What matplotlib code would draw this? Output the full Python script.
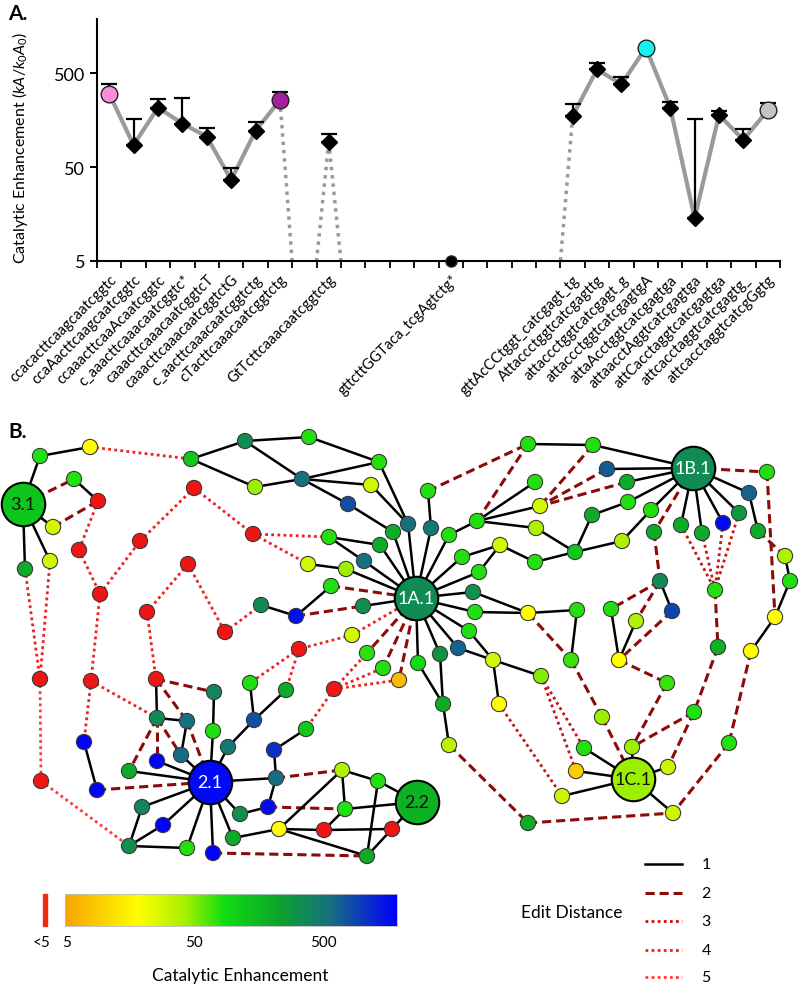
import numpy as np
import matplotlib
matplotlib.use("Agg")
import matplotlib.pyplot as plt
from matplotlib.colors import LinearSegmentedColormap
from matplotlib.patches import Rectangle

plt.rcParams['font.family'] = ['Lato', 'DejaVu Sans']
plt.rcParams['mathtext.fontset'] = 'custom'
plt.rcParams['mathtext.it'] = 'Lato:italic'
plt.rcParams['mathtext.rm'] = 'Lato'

# ---------------- Panel A data ----------------
label_pos = [0, 1, 2, 3, 4, 5, 6, 7, 9, 14, 19, 20, 21, 22, 23, 24, 25, 26, 27]
seq_labels = [
    "ccacacttcaagcaatcggtc", "ccaAacttcaagcaatcggtc", "ccaaacttcaaAcaatcggtc",
    "c_aaacttcaaacaatcggtc*", "caaacttcaaacaatcggtcT", "caaacttcaaacaatcggtctG",
    "c_aacttcaaacaatcggtctg", "cTacttcaaacaatcggtctg", "GtTcttcaaacaatcggtctg",
    "gttcttGGTaca_tcgAgtctg*", "gttAcCCtggt_catcgagt_tg", "Attaccctggtcatcgagttg",
    "attaccctggtcatcgagt_g", "attaccctggtcatcgagtgA", "attaAcctggtcatcgagtga",
    "attaacctAggtcatcgagtga", "attCacctaggtcatcgagtga", "attcacctaggtcatcgagtg_",
    "attcacctaggtcatcgGgtg",
]
enh_vals = [304, 86, 216, 146, 106, 36.6, 122, 260, 93, 5,
            176, 552, 382, 938, 216, 14.3, 180, 98, 202]
enh_top = [382, 165, 269, 273, 131, 49, 150, 319, 114, 5,
           238, 638, 461, 960, 248, 165, 199, 129, 244]
series_1 = [0, 1, 2, 3, 4, 5, 6, 7]
series_2 = [19, 20, 21, 22, 23, 24, 25, 26, 27]
drop_from = [7, 9, 9, 19]
drop_to = [7.5, 8.5, 9.5, 18.5]
special_pos = [0, 7, 22, 27, 14]
special_col = ['#f98ddc', '#a3229c', '#19f0f0', '#c4c4c4', '#000000']

# ---------------- Panel B data ----------------
node_names = [
    "3.1", "a2", "a3", "a4", "a5", "a6", "a7",
    "r1", "r2", "r3", "r4", "r5", "r6", "r7", "r8", "r9", "r10", "r11", "r12", "r13", "r14", "r15", "r16", "r17",
    "t1", "t2", "t3", "t4", "t5", "t6", "t7", "t8", "t9", "t10", "t11", "t12", "t13", "t14", "t15", "t16", "t17",
    "t18", "t19", "t20", "t21",
    "m1", "m2", "m3", "m4", "1A.1",
    "h1", "h2", "h3", "h4", "h5", "h6", "h7", "h8", "h9", "h10", "h11", "h12", "h13", "h14", "h15", "h16", "h17",
    "h18", "h19", "h20", "h21", "h22", "h24", "h25", "h26", "h27", "h28", "h29", "h30", "h31", "h32", "h33",
    "1B.1", "k1", "k2", "k3", "k4", "k5", "k6", "k7", "k8", "k9", "k10", "k11", "k12", "k13", "k14", "k15", "k16",
    "k17", "k18", "k19", "k20", "k21", "k22", "k23", "k24", "k25", "1C.1", "k27", "k28", "k29", "k30", "k31",
    "2.1", "b1", "b2", "b3", "b4", "b5", "b6", "b7", "b8", "b9", "b10", "b11", "b12", "b13", "b14", "b15", "b16",
    "b17", "b18", "b19", "b20", "b21", "b22", "b23", "b24",
    "2.2", "c1", "c2", "c3", "c4", "c7",
]
node_x = [
    23, 40, 90, 74, 53, 25, 50,
    98, 79, 100, 140, 194, 188, 147, 253, 225, 40, 91, 156, 299, 334, 41, 324, 392,
    191, 245, 309, 379, 255, 302, 371, 348, 408, 428, 431, 393, 329, 380, 364, 308, 346,
    331, 261, 296, 363,
    367, 383, 399, 352, 416,
    449, 462, 500, 479, 473, 475, 528, 469, 477, 535, 540, 536, 535, 528, 593, 607, 627,
    628, 651, 592, 622, 575, 577, 458, 440, 418, 493, 571, 443, 499, 449, 541,
    693, 767, 749, 654, 681, 702, 723, 739, 758, 785, 790, 660, 715, 611, 672, 636, 775,
    619, 751, 718, 667, 602, 694, 729, 584, 632, 633, 576, 668, 562, 673, 528,
    210, 157, 187, 213, 254, 306, 84, 228, 274, 157, 181, 129, 97, 276, 142, 268, 240,
    163, 233, 129, 187, 213, 214, 250, 286,
    417, 342, 378, 345, 279, 367,
]
node_y = [
    505, 457, 448, 480, 528, 570, 562,
    502, 551, 595, 542, 489, 565, 613, 535, 633, 680, 682, 680, 650, 690, 782, 831, 830,
    460, 442, 438, 463, 488, 480, 486, 505, 525, 492, 529, 533, 538, 546, 562, 565, 570,
    587, 606, 617, 607,
    654, 669, 681, 636, 599,
    536, 558, 546, 573, 593, 613, 614, 632, 522, 483, 507, 529, 563, 445, 446, 470, 483,
    503, 511, 516, 542, 553, 611, 649, 655, 664, 661, 661, 705, 705, 746, 677,
    469, 473, 494, 533, 526, 534, 524, 514, 532, 557, 582, 582, 591, 610, 612, 622, 618,
    661, 652, 648, 684, 718, 713, 744, 749, 748, 780, 772, 768, 797, 814, 824,
    783, 719, 722, 732, 721, 730, 743, 748, 751, 762, 756, 772, 791, 779, 808, 808, 815,
    826, 839, 847, 849, 854, 693, 684, 691,
    803, 771, 782, 810, 830, 857,
]
# catalytic enhancement of each node (values below 5 drawn red)
node_val = [
    130, 80, 18, 80, 28, 200, 28,
    3, 3, 3, 3, 3, 3, 3, 3, 3, 3, 3, 3, 3, 3, 3, 3, 3,
    120, 350, 80, 80, 45, 570, 28, 800, 570, 80, 500, 200, 80, 200, 570, 28, 45,
    80, 350, 1600, 330,
    75, 80, 7, 28, 350,
    80, 80, 28, 80, 330, 80, 18, 80, 80, 80, 28, 40, 80, 80, 80, 700, 200,
    80, 80, 200, 40, 120, 80, 650, 300, 90, 28, 70, 200, 18, 35, 50,
    350, 80, 650, 200, 200, 200, 1700, 280, 200, 40, 80, 350, 80, 80, 900, 40, 18,
    18, 18, 180, 70, 45, 80, 80, 80, 45, 45, 9, 30, 30, 30, 200,
    1700, 350, 570, 80, 800, 120, 1800, 500, 1100, 1800, 600, 200, 1800, 600, 400, 1700, 330,
    1800, 200, 330, 80, 1800, 400, 80, 200,
    180, 40, 80, 80, 18, 200,
]
hub_names = ["3.1", "1A.1", "1B.1", "1C.1", "2.1", "2.2"]
hub_text_col = ["#111111", "white", "white", "#111111", "white", "#111111"]

edges_1 = [
    ("3.1", "a2"), ("a2", "a3"), ("3.1", "a5"), ("3.1", "a6"), ("3.1", "a7"), ("a4", "r1"),
    ("t1", "t2"), ("t2", "t3"), ("t3", "t4"), ("t1", "t5"), ("t5", "t6"), ("t2", "t6"), ("t6", "t4"),
    ("t6", "t7"), ("t6", "t8"), ("t8", "t12"), ("t4", "t9"), ("t7", "t9"), ("t10", "t11"),
    ("t9", "1A.1"), ("t11", "1A.1"), ("t12", "1A.1"), ("t13", "t14"), ("t13", "t15"), ("t14", "1A.1"),
    ("t15", "1A.1"), ("t16", "t17"), ("t17", "1A.1"), ("t18", "t20"), ("t19", "t20"), ("t21", "1A.1"),
    ("1A.1", "h1"), ("h1", "h9"), ("h9", "h10"), ("h9", "h11"), ("h9", "h12"), ("1A.1", "h2"),
    ("h2", "h3"), ("h3", "h4"), ("h4", "1A.1"), ("h3", "h13"), ("h12", "h22"), ("h13", "h22"),
    ("h22", "h20"), ("h20", "h18"), ("h18", "1B.1"), ("h22", "h21"), ("h21", "h19"), ("h19", "1B.1"),
    ("h14", "h15"), ("h15", "1B.1"), ("h16", "1B.1"), ("h17", "1B.1"), ("1A.1", "h5"), ("h5", "h7"),
    ("h6", "h7"), ("1A.1", "h6"), ("h7", "h24"), ("h24", "h29"), ("1A.1", "h8"), ("h8", "h28"),
    ("h28", "h33"), ("h28", "h31"), ("1A.1", "h25"), ("h25", "h28"), ("1A.1", "h26"), ("h26", "h30"),
    ("1A.1", "h27"), ("h27", "h30"), ("h30", "h32"),
    ("1B.1", "k2"), ("k2", "k8"), ("1B.1", "k4"), ("1B.1", "k5"), ("1B.1", "k6"), ("1B.1", "k7"),
    ("k9", "k10"), ("k10", "k16"), ("k16", "k18"), ("k11", "k14"), ("k13", "k17"), ("k15", "k17"),
    ("1C.1", "k30"), ("1C.1", "k24"), ("1C.1", "k27"), ("1C.1", "k29"), ("1C.1", "k28"), ("1C.1", "k25"),
    ("b1", "r12"), ("b1", "b2"), ("b2", "b10"), ("b22", "b3"), ("b3", "2.1"), ("b23", "b4"), ("b24", "b4"),
    ("b4", "b7"), ("b7", "2.1"), ("b5", "b8"), ("b8", "b13"), ("b13", "2.1"), ("b13", "b15"),
    ("b15", "b16"), ("b16", "2.1"), ("b9", "2.1"), ("b10", "2.1"), ("b11", "2.1"), ("b6", "b12"),
    ("b14", "2.1"), ("b14", "b19"), ("b17", "2.1"), ("b17", "b19"), ("b19", "b20"), ("b20", "2.1"),
    ("b21", "2.1"), ("b18", "2.1"), ("b18", "c4"),
    ("c1", "c2"), ("c2", "2.2"), ("c1", "c3"), ("c3", "2.2"), ("c1", "c4"), ("c3", "r16"),
    ("c4", "r16"), ("r16", "r17"), ("r17", "2.2"), ("c2", "c7"), ("c4", "c7"), ("c7", "r17"),
]
edges_2 = [
    ("3.1", "a4"), ("a5", "r1"), ("t10", "h14"), ("h9", "h14"), ("h15", "h11"), ("h16", "h11"),
    ("h17", "h11"), ("t20", "t21"), ("t18", "1A.1"), ("1A.1", "m1"), ("1A.1", "m2"), ("1A.1", "m3"),
    ("h7", "h29"), ("h29", "k21"), ("k21", "1C.1"), ("h32", "k31"), ("k31", "k30"),
    ("1B.1", "k1"), ("k1", "k16"), ("k8", "k9"), ("1B.1", "k3"), ("k3", "k11"), ("k11", "k13"),
    ("k11", "k15"), ("k14", "k17"), ("k17", "k20"), ("k20", "k25"), ("k12", "k19"), ("k19", "k22"),
    ("k22", "k25"), ("k22", "k28"), ("k18", "k23"), ("k23", "k30"),
    ("b12", "2.1"), ("b1", "b11"), ("b1", "b9"), ("b1", "b10"), ("b2", "2.1"), ("r12", "b22"),
    ("r12", "b2"), ("b13", "c1"), ("b15", "c3"), ("b21", "c7"),
]
edges_3 = [
    ("k4", "k12"), ("k5", "k12"), ("k6", "k12"), ("k7", "k12"),
    ("h33", "k24"), ("h33", "k27"), ("h31", "k29"),
]
edges_4 = [
    ("a3", "t1"), ("a6", "r10"), ("a7", "r10"), ("r1", "r2"), ("r2", "r3"), ("r3", "r4"), ("r4", "r5"),
    ("r5", "r8"), ("r8", "t13"), ("r8", "t16"), ("r3", "r11"), ("r6", "r7"), ("r6", "r9"), ("r9", "t19"),
    ("r7", "r12"), ("r11", "b1"), ("r11", "b6"), ("m4", "1A.1"), ("m4", "r13"), ("r13", "b23"),
    ("r13", "b24"), ("r14", "m1"), ("r14", "m2"), ("r14", "m3"), ("r14", "b5"),
]
edges_5 = [("r10", "r15"), ("r15", "b19")]

edge_styles = {
    1: dict(color='black', lw=1.8, ls='-'),
    2: dict(color='#8b0b0b', lw=2.2, ls=(0, (3, 1.6))),
    3: dict(color='#c81414', lw=2.0, ls=(0, (1, 1.2))),
    4: dict(color='#ee2020', lw=2.0, ls=(0, (1, 1.2))),
    5: dict(color='#ff3a3a', lw=2.0, ls=(0, (1, 1.2))),
}

cmap = LinearSegmentedColormap.from_list('enh', [
    (0.0, '#f7a400'), (0.22, '#ffff00'), (0.36, '#a8f000'), (0.48, '#11dd11'),
    (0.64, '#0ca52a'), (0.8, '#177080'), (1.0, '#0000ff')])
log_lo, log_hi = np.log10(5), np.log10(1870)


def node_color(v):
    if v < 5:
        return '#f01515'
    return cmap((np.log10(v) - log_lo) / (log_hi - log_lo))


W, H = 800, 987
fig = plt.figure(figsize=(W / 100, H / 100), dpi=100)

# ---------------- Panel A ----------------
axA = fig.add_axes([97 / W, 1 - 262 / H, (780 - 97) / W, (262 - 20) / H])
val_at = dict(zip(label_pos, enh_vals))
top_at = dict(zip(label_pos, enh_top))

for grp in [series_1, series_2]:
    axA.plot(grp, [val_at[p] for p in grp], color='#9a9a9a', lw=3, zorder=2)
for p0, p1 in zip(drop_from, drop_to):
    axA.plot([p0, p1], [val_at[p0], 5], color='#9a9a9a', lw=2.5, ls=(0, (1, 1.4)),
             zorder=1, clip_on=False)

err_pos = [p for p in label_pos if top_at[p] > val_at[p]]
axA.errorbar(err_pos, [val_at[p] for p in err_pos],
             yerr=[[0] * len(err_pos), [top_at[p] - val_at[p] for p in err_pos]],
             fmt='none', ecolor='black', elinewidth=1.6, capsize=6, capthick=1.6, zorder=3)

plain = [p for p in label_pos if p not in special_pos]
axA.plot(plain, [val_at[p] for p in plain], 'D', color='black', ms=8, zorder=4)
for p, c in zip(special_pos, special_col):
    ms = 8 if p == 14 else 12
    axA.plot(p, val_at[p], 'o', mfc=c, mec='#222222', mew=1, ms=ms, zorder=5, clip_on=False)

axA.set_yscale('log')
axA.set_ylim(5, 1900)
axA.set_xlim(-0.5, 27.5)
axA.set_yticks([5, 50, 500])
axA.set_yticklabels(['5', '50', '500'], fontsize=13)
axA.yaxis.set_minor_locator(matplotlib.ticker.NullLocator())
axA.tick_params(axis='y', which='major', length=5, width=1.4, direction='out')
axA.set_xticks(label_pos)
axA.set_xticklabels(seq_labels, rotation=45, ha='right', rotation_mode='anchor', fontsize=10.5)
axA.tick_params(axis='x', which='major', length=0, pad=8)
axA.set_xticks(np.arange(-0.5, 28, 1), minor=True)
axA.tick_params(axis='x', which='minor', length=5, width=1.3, direction='out')
for s in ['top', 'right']:
    axA.spines[s].set_visible(False)
for s in ['left', 'bottom']:
    axA.spines[s].set_linewidth(1.5)
axA.set_ylabel('Catalytic Enhancement ($kA/k_0A_0$)', fontsize=11.5)
axA.yaxis.set_label_coords(-0.098, 0.47)

# ---------------- Panel B ----------------
axB = fig.add_axes([0, 0, 1, 1])
axB.set_xlim(0, W)
axB.set_ylim(H, 0)
axB.axis('off')
axB.patch.set_alpha(0)

pos = {n: (x, y) for n, x, y in zip(node_names, node_x, node_y)}
for dist, elist in [(5, edges_5), (4, edges_4), (3, edges_3), (2, edges_2), (1, edges_1)]:
    st = edge_styles[dist]
    for a, b in elist:
        (x0, y0), (x1, y1) = pos[a], pos[b]
        axB.plot([x0, x1], [y0, y1], color=st['color'], lw=st['lw'], ls=st['ls'],
                 zorder=2, solid_capstyle='butt')

small = [i for i, n in enumerate(node_names) if n not in hub_names]
axB.scatter([node_x[i] for i in small], [node_y[i] for i in small], s=120,
            c=[node_color(node_val[i]) for i in small], edgecolors='#3a3a3a',
            linewidths=0.8, zorder=4)
for n, tc in zip(hub_names, hub_text_col):
    i = node_names.index(n)
    axB.scatter(node_x[i], node_y[i], s=980, c=[node_color(node_val[i])],
                edgecolors='black', linewidths=1.5, zorder=5)
    axB.text(node_x[i], node_y[i], n, color=tc, fontsize=13, ha='center', va='center', zorder=6)

axB.text(8, 14, 'A.', fontsize=15, fontweight='bold', ha='left', va='center')
axB.text(8, 432, 'B.', fontsize=15, fontweight='bold', ha='left', va='center')

# colour bar
axC = fig.add_axes([65 / W, 1 - 927 / H, (397 - 65) / W, 32 / H])
axC.imshow(np.linspace(0, 1, 256)[None, :], aspect='auto', cmap=cmap)
axC.set_xticks([])
axC.set_yticks([])
for s in axC.spines.values():
    s.set_color('#bbbbbb')
    s.set_linewidth(0.6)
axB.add_patch(Rectangle((43, 895), 4, 32, color='#f02a10', zorder=3))
for lab, x in zip(['<5', '5', '50', '500'], [42, 67, 194, 323]):
    axB.text(x, 943, lab, fontsize=11, ha='center', va='center')
axB.text(240, 976, 'Catalytic Enhancement', fontsize=12.5, ha='center', va='center')

# edit-distance legend
axB.text(572, 913, 'Edit Distance', fontsize=12.5, ha='center', va='center')
for k, yy in zip([1, 2, 3, 4, 5], [865, 894, 922, 951, 978]):
    st = edge_styles[k]
    axB.plot([645, 682], [yy, yy], color=st['color'], lw=st['lw'], ls=st['ls'])
    axB.text(706, yy, str(k), fontsize=11.5, ha='center', va='center')

fig.savefig('out.png', dpi=100)
